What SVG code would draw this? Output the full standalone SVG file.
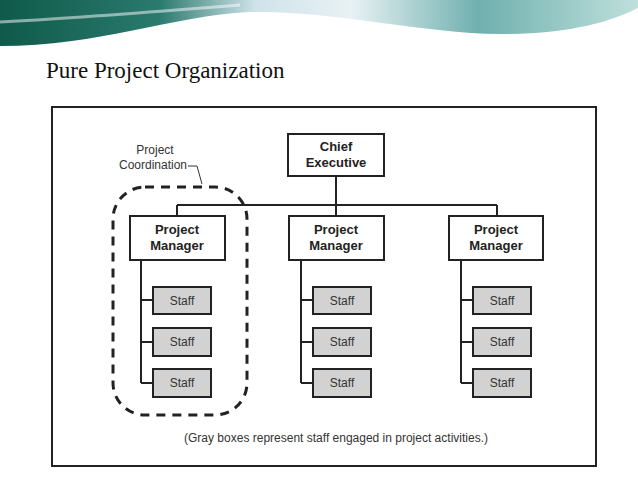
<svg xmlns="http://www.w3.org/2000/svg" width="638" height="479" viewBox="0 0 638 479">
<style>
.b{fill:#fff;stroke:#222;stroke-width:2}
.s{fill:#d2d2d2;stroke:#222;stroke-width:2}
.l{stroke:#222;stroke-width:2;fill:none}
.tb{font-family:"Liberation Sans",Arial,sans-serif;font-weight:bold;font-size:13px;fill:#222;text-anchor:middle}
.ts{font-family:"Liberation Sans",Arial,sans-serif;font-size:12px;fill:#333;text-anchor:middle}
</style>
<defs>
<linearGradient id="g1" x1="0" x2="1" y1="0" y2="0">
<stop offset="0" stop-color="#0f5a4a"/><stop offset="0.25" stop-color="#2a7a6e"/><stop offset="0.4" stop-color="#cfe3ea"/><stop offset="0.55" stop-color="#e8f1f4"/><stop offset="0.75" stop-color="#6fb0ae"/><stop offset="1" stop-color="#bfe0dc"/>
</linearGradient>
</defs>
<rect width="638" height="479" fill="#fff"/>
<g id="banner">
<path d="M0 0 H638 V8 C610 22 570 34 500 34 C420 33 330 10 250 12 C170 16 100 46 0 46 Z" fill="url(#g1)"/>
<path d="M0 22 C80 18 150 12 240 5" stroke="#fff" stroke-width="3" fill="none" opacity="0.5"/>
</g>
<text x="46" y="78" font-family="Liberation Serif,serif" font-size="23" fill="#111">Pure  Project Organization</text>
<rect x="52" y="107" width="544" height="359" fill="none" stroke="#222" stroke-width="2"/>
<g id="connectors">
<path class="l" d="M336 176V205M177 205H497M177 205V216M336 205V216M497 205V216"/>
<path class="l" d="M141 260V383M141 300H153M141 342H153M141 383H153"/>
<path class="l" d="M301 260V383M301 300H313M301 342H313M301 383H313"/>
<path class="l" d="M461 260V383M461 300H473M461 342H473M461 383H473"/>
<path d="M188 166 L197 166 L202 184" stroke="#333" stroke-width="1" fill="none"/>
</g>
<g id="coordination">
<rect x="113" y="187" width="134" height="228" rx="32" fill="none" stroke="#222" stroke-width="3" stroke-dasharray="9 7"/>
<text class="ts" x="155" y="154">Project</text>
<text class="ts" x="153" y="169">Coordination</text>
</g>
<g id="chief"><rect class="b" x="288" y="134" width="96" height="42"/><text class="tb" x="336" y="151">Chief</text><text class="tb" x="336" y="167">Executive</text></g>
<g id="pm1"><rect class="b" x="130" y="216" width="95" height="44"/><text class="tb" x="177" y="234">Project</text><text class="tb" x="177" y="250">Manager</text></g>
<g id="pm2"><rect class="b" x="289" y="216" width="95" height="44"/><text class="tb" x="336" y="234">Project</text><text class="tb" x="336" y="250">Manager</text></g>
<g id="pm3"><rect class="b" x="449" y="216" width="94" height="44"/><text class="tb" x="496" y="234">Project</text><text class="tb" x="496" y="250">Manager</text></g>
<g id="staff1a"><rect class="s" x="153" y="287" width="58" height="27"/><text class="ts" x="182" y="305">Staff</text></g>
<g id="staff1b"><rect class="s" x="153" y="328" width="58" height="28"/><text class="ts" x="182" y="346">Staff</text></g>
<g id="staff1c"><rect class="s" x="153" y="369" width="58" height="28"/><text class="ts" x="182" y="387">Staff</text></g>
<g id="staff2a"><rect class="s" x="313" y="287" width="58" height="27"/><text class="ts" x="342" y="305">Staff</text></g>
<g id="staff2b"><rect class="s" x="313" y="328" width="58" height="28"/><text class="ts" x="342" y="346">Staff</text></g>
<g id="staff2c"><rect class="s" x="313" y="369" width="58" height="28"/><text class="ts" x="342" y="387">Staff</text></g>
<g id="staff3a"><rect class="s" x="473" y="287" width="58" height="27"/><text class="ts" x="502" y="305">Staff</text></g>
<g id="staff3b"><rect class="s" x="473" y="328" width="58" height="28"/><text class="ts" x="502" y="346">Staff</text></g>
<g id="staff3c"><rect class="s" x="473" y="369" width="58" height="28"/><text class="ts" x="502" y="387">Staff</text></g>
<text class="ts" x="336" y="442">(Gray boxes represent staff engaged in project activities.)</text>
</svg>
